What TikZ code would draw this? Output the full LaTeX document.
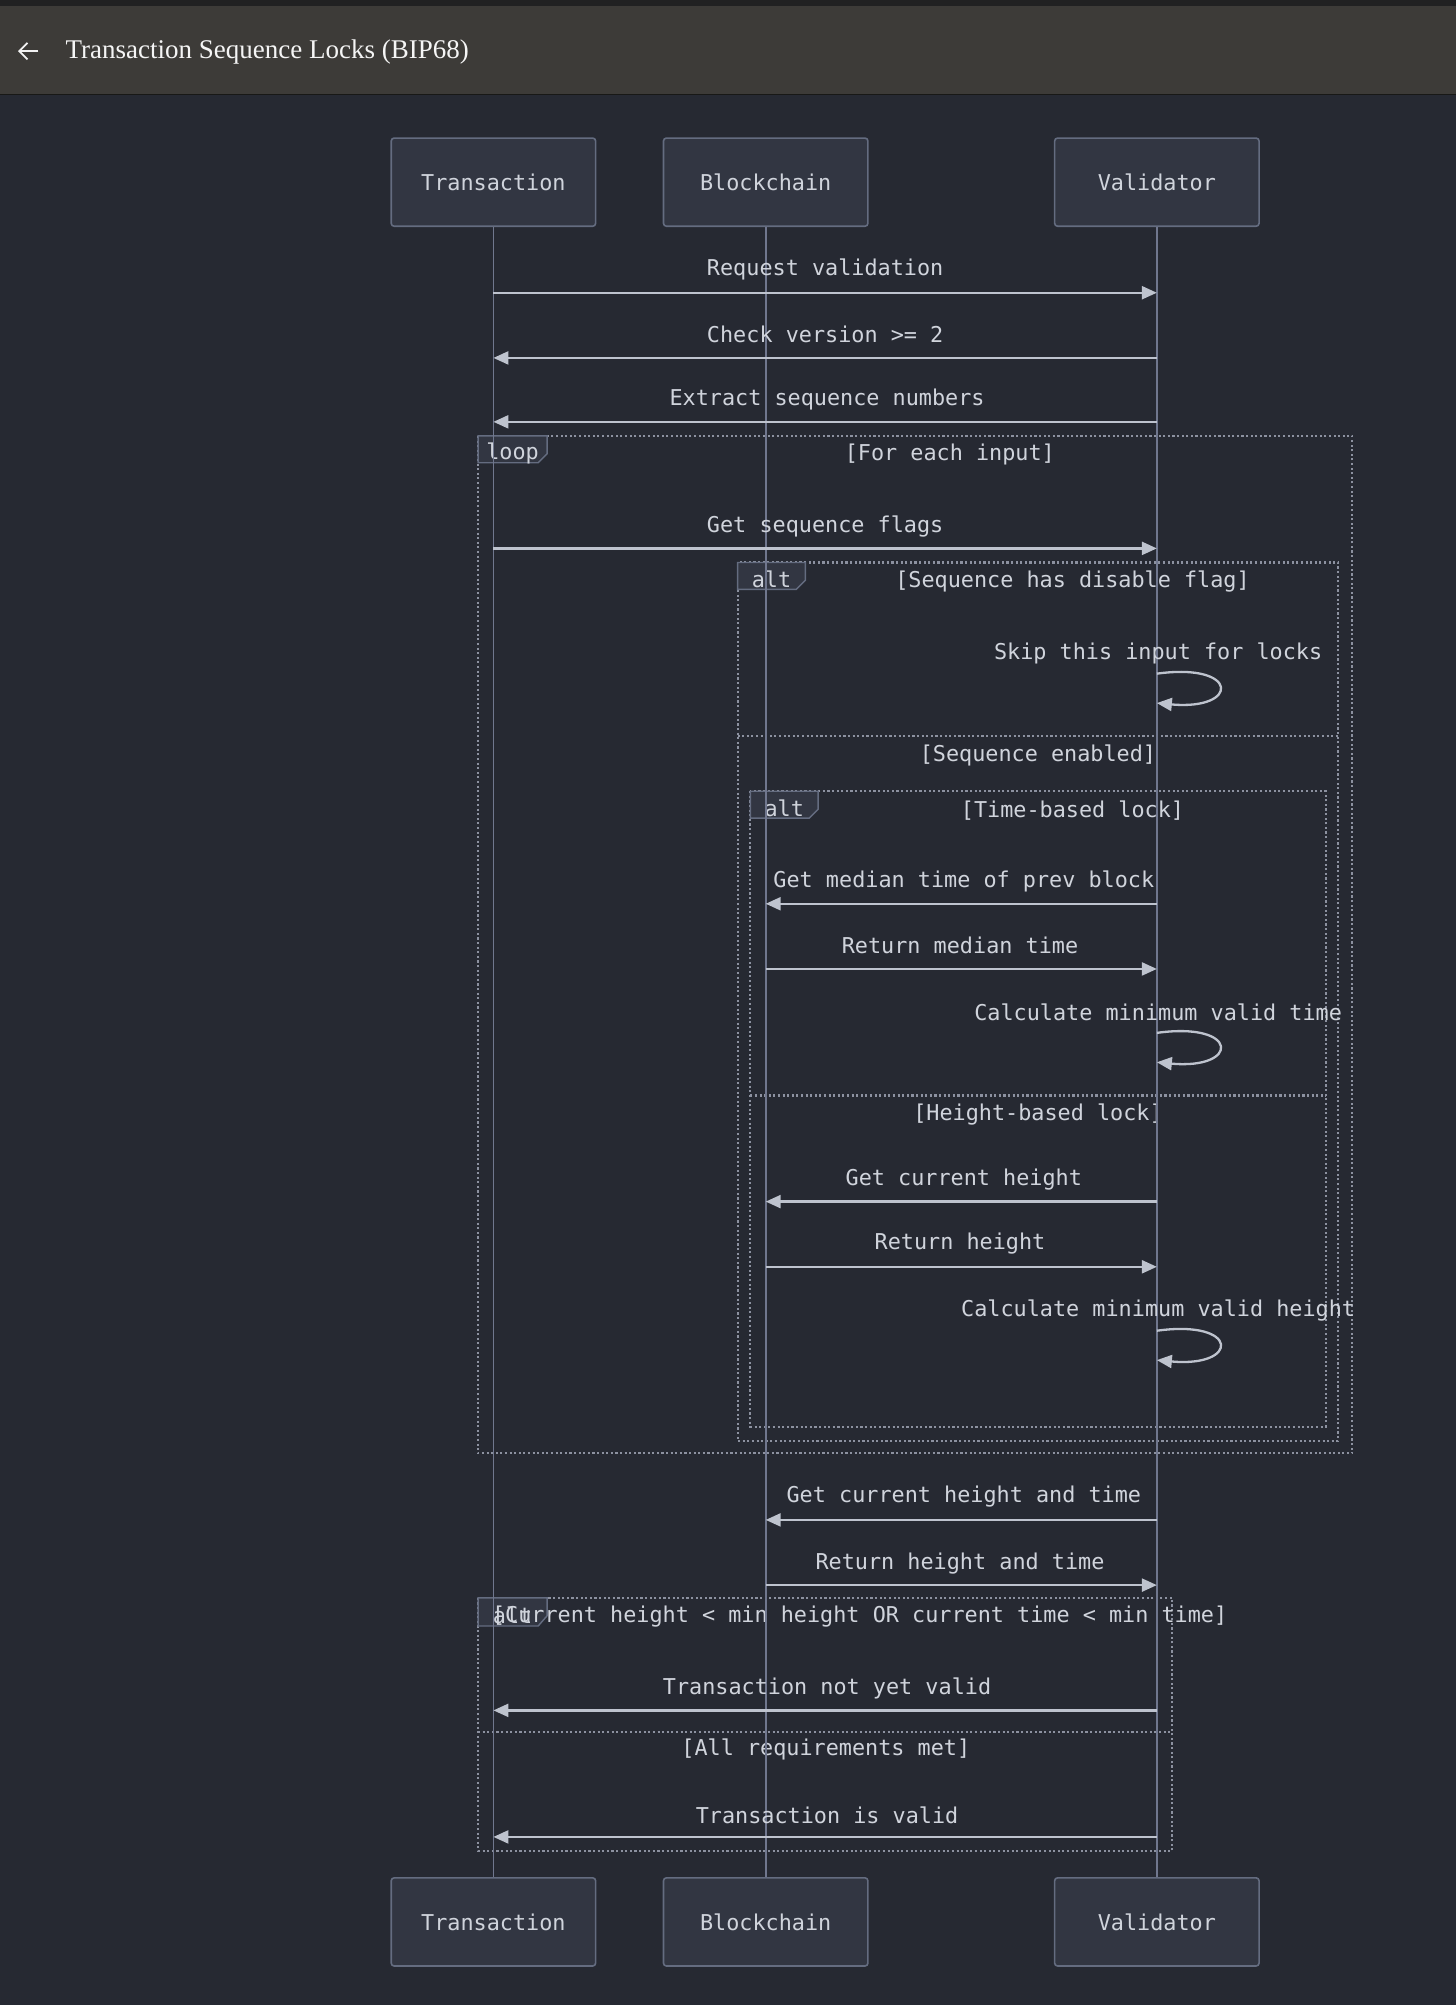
\documentclass[tikz,border=0pt]{standalone}
\usepackage{fontspec}
\setmainfont{Liberation Serif}
\newfontfamily\monofam{DejaVu Sans Mono}
\usetikzlibrary{arrows.meta}
\definecolor{bgc}{RGB}{38,41,50}
\definecolor{hdr}{RGB}{61,59,56}
\definecolor{topstrip}{RGB}{33,33,34}
\definecolor{boxfill}{RGB}{50,54,66}
\definecolor{boxline}{RGB}{100,108,128}
\definecolor{life}{RGB}{112,119,142}
\definecolor{txt}{RGB}{208,212,220}
\definecolor{arr}{RGB}{190,195,206}
\definecolor{framec}{RGB}{140,145,160}
\begin{document}
\begin{tikzpicture}[x=0.639pt,y=-0.639pt,
  actor/.style={draw=boxline,fill=boxfill,line width=0.8pt,rounded corners=1.5pt,minimum width=102.2pt,minimum height=44.1pt,inner sep=0pt,text=txt,font=\monofam\fontsize{10.9}{13}\selectfont},
  lbl/.style={text=txt,inner sep=0pt,yshift=-1.2pt,font=\monofam\fontsize{10.9}{13}\selectfont},
  lifeline/.style={draw=life,line width=0.8pt},
  msg/.style={draw=arr,line width=1.15pt,-{Triangle[length=7.5pt,width=6.5pt]}},
  framebox/.style={draw=framec,line width=1.05pt,dash pattern=on 1.05pt off 1.25pt},
  tagbox/.style={draw=boxline,fill=boxfill,line width=0.7pt}]
\useasboundingbox (0,0) rectangle (1139,1568.5);
\fill[bgc] (0,0) rectangle (1139,1568.5);
% header
\fill[topstrip] (0,0) rectangle (1139,5);
\fill[hdr] (0,5) rectangle (1139,74);
\draw[line width=0.6pt,color=black!60!hdr] (0,74) -- (1139,74);
\coordinate (arrR) at (30,40);
\coordinate (arrL) at (15,40);
\draw[white!90!gray,line width=0.9pt] (arrR) -- (arrL);
\draw[white!90!gray,line width=0.9pt] (21.5,33.5) -- (arrL) -- (21.5,46.5);
\node[anchor=west,inner sep=0pt,text=white!92!gray,font=\fontsize{13.5}{16}\selectfont] (title) at (51,41) {Transaction Sequence Locks (BIP68)};

% actors
\node[actor] (Tt) at (386,142.5) {Transaction};
\node[actor] (Bt) at (599,142.5) {Blockchain};
\node[actor] (Vt) at (905,142.5) {Validator};
\node[actor] (Tb) at (386,1503.5) {Transaction};
\node[actor] (Bb) at (599,1503.5) {Blockchain};
\node[actor] (Vb) at (905,1503.5) {Validator};

% frames
\draw[framebox] (374,341) rectangle (1058,1137);
\draw[tagbox] (374,341) -- (428,341) -- (428,355) -- (421,362) -- (374,362) -- cycle;
\node[lbl] (loopT) at (401,352.5) {loop};
\node[lbl] (loopC) at (743,354) {[For each input]};

\draw[framebox] (577,440) rectangle (1047,1127);
\draw[tagbox] (577,440) -- (630,440) -- (630,454) -- (623,461) -- (577,461) -- cycle;
\node[lbl] (alt1T) at (603.5,451.5) {alt};
\node[lbl] (alt1C) at (839,453) {[Sequence has disable flag]};
\draw[framebox] (577,576) -- (1047,576);
\node[lbl] (alt1E) at (812,589) {[Sequence enabled]};

\draw[framebox] (587,619) rectangle (1037,1116);
\draw[tagbox] (587,619) -- (640,619) -- (640,633) -- (633,640) -- (587,640) -- cycle;
\node[lbl] (alt2T) at (613.5,630.5) {alt};
\node[lbl] (alt2C) at (839,632) {[Time-based lock]};
\draw[framebox] (587,857) -- (1037,857);
\node[lbl] (alt2E) at (812,870) {[Height-based lock]};

\draw[framebox] (374,1250) rectangle (917,1448);
\draw[tagbox] (374,1250) -- (428,1250) -- (428,1264) -- (421,1272) -- (374,1272) -- cycle;
\node[lbl] (alt3T) at (401,1261.5) {alt};
\node[lbl] (alt3C) at (672.5,1263) {[Current height < min height OR current time < min time]};
\draw[framebox] (374,1355) -- (917,1355);
\node[lbl] (alt3E) at (646,1367) {[All requirements met]};

% lifelines
\draw[lifeline] (Tt.south) -- (Tb.north);
\draw[lifeline] (Bt.south) -- (Bb.north);
\draw[lifeline] (Vt.south) -- (Vb.north);

% messages
\node[lbl] (l1) at (645.5,209) {Request validation};
\coordinate (m1a) at (386,229); \coordinate (m1b) at (905,229);
\draw[msg] (m1a) -- (m1b);

\node[lbl] (l2) at (645.5,260) {Check version >= 2};
\coordinate (m2a) at (905,280); \coordinate (m2b) at (386,280);
\draw[msg] (m2a) -- (m2b);

\node[lbl] (l3) at (647,311) {Extract sequence numbers};
\coordinate (m3a) at (905,330); \coordinate (m3b) at (386,330);
\draw[msg] (m3a) -- (m3b);

\node[lbl] (l4) at (645.5,410) {Get sequence flags};
\coordinate (m4a) at (386,429); \coordinate (m4b) at (905,429);
\draw[msg] (m4a) -- (m4b);

\node[lbl] (l5) at (906,509) {Skip this input for locks};
\coordinate (m5a) at (905,527); \coordinate (m5b) at (905,550);
\draw[msg] (m5a) .. controls (970,518) and (970,556) .. (m5b);

\node[lbl] (l6) at (754,688) {Get median time of prev block};
\coordinate (m6a) at (905,707); \coordinate (m6b) at (599,707);
\draw[msg] (m6a) -- (m6b);

\node[lbl] (l7) at (751,738) {Return median time};
\coordinate (m7a) at (599,758); \coordinate (m7b) at (905,758);
\draw[msg] (m7a) -- (m7b);

\node[lbl] (l8) at (906,790) {Calculate minimum valid time};
\coordinate (m8a) at (905,808); \coordinate (m8b) at (905,831);
\draw[msg] (m8a) .. controls (970,799) and (970,837) .. (m8b);

\node[lbl] (l9) at (754,921) {Get current height};
\coordinate (m9a) at (905,940); \coordinate (m9b) at (599,940);
\draw[msg] (m9a) -- (m9b);

\node[lbl] (l10) at (751,971) {Return height};
\coordinate (m10a) at (599,991); \coordinate (m10b) at (905,991);
\draw[msg] (m10a) -- (m10b);

\node[lbl] (l11) at (906,1023) {Calculate minimum valid height};
\coordinate (m11a) at (905,1041); \coordinate (m11b) at (905,1064);
\draw[msg] (m11a) .. controls (970,1032) and (970,1070) .. (m11b);

\node[lbl] (l12) at (754,1169) {Get current height and time};
\coordinate (m12a) at (905,1189); \coordinate (m12b) at (599,1189);
\draw[msg] (m12a) -- (m12b);

\node[lbl] (l13) at (751,1221) {Return height and time};
\coordinate (m13a) at (599,1240); \coordinate (m13b) at (905,1240);
\draw[msg] (m13a) -- (m13b);

\node[lbl] (l14) at (647,1319) {Transaction not yet valid};
\coordinate (m14a) at (905,1338); \coordinate (m14b) at (386,1338);
\draw[msg] (m14a) -- (m14b);

\node[lbl] (l15) at (647,1418) {Transaction is valid};
\coordinate (m15a) at (905,1437); \coordinate (m15b) at (386,1437);
\draw[msg] (m15a) -- (m15b);
\end{tikzpicture}
\end{document}
